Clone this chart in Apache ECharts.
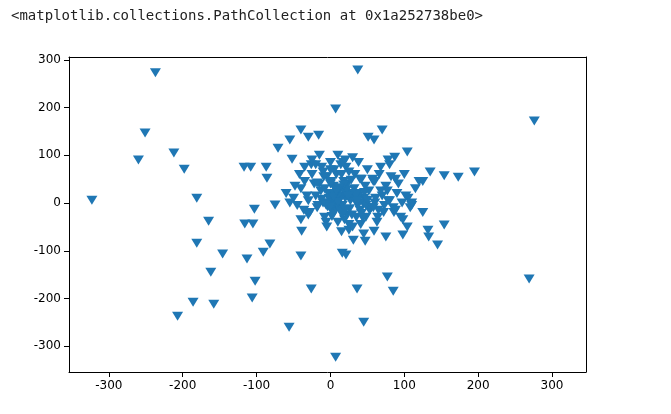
<!DOCTYPE html><html><head><meta charset="utf-8"><script src="https://cdn.jsdelivr.net/npm/echarts@6/dist/echarts.min.js"></script></head><body style="margin:0;background:#fff"><div id="c" style="width:671px;height:414px"></div><script>
const xTicks=[-300,-200,-100,0,100,200,300];
const yTicks=[-300,-200,-100,0,100,200,300];
const outX=[-323,-237,-251,-260,-212,-198,-181,-181,-165,-162,-146,-186,-158,-207,-117,-108,-116,-103,-105,-113,-102,-106,-91,-82,-56,-26,7,37,7,276,269,195,173,154,145,154,132,133,135,85,77,45,36,-40,-39,-75,-87,-71,-55,-40,-52,-86,70,51,59,104,87,21,25,31,16,21,-16,-30,104,98,75,59,47];
const outY=[6,273,147,90,105,71,10,-84,-38,-145,-107,-208,-212,-237,75,75,-44,-13,-44,-117,-164,-199,-103,-86,-260,-180,-323,279,197,172,-159,65,54,57,-88,-46,-57,-71,65,-185,-155,-250,-180,-111,-59,-4,75,115,132,153,92,52,153,138,132,107,96,75,-57,-78,-105,-109,142,138,-50,-67,-71,-59,-80];
const clX=[-60,-50,-45,-40,-35,-30,-28,-25,-20,-18,-15,-12,-10,-8,-5,-3,0,2,4,6,8,10,12,14,16,18,20,22,25,28,30,32,35,38,40,42,45,48,50,52,55,58,60,63,66,70,72,75,78,80,85,88,90,95,100,105,110,115,120,125,-55,-48,-42,-36,-32,-26,-22,-17,-13,-9,-6,-2,1,3,5,9,11,13,17,19,23,27,29,33,37,41,44,47,53,57,61,64,68,73,77,82,86,92,97,102,108,-20,-10,0,10,20,30,-5,5,15,25,35,45,55,65,-15,-25,-35,12,8,3,-2,18,28,38,48,58,68,78,88,98,110,125,-30,-40,0,15,40,60,80,-12,-4,6,14,22,30,38,46,-8,2,10,18,26,34,42,50,-18,-6,4,12,20,28,36,44,0,8,16,24];
const clY=[20,10,-5,30,45,5,-20,60,15,-10,40,75,0,-30,55,20,85,-15,35,5,60,-40,25,80,-5,45,10,-25,65,20,-50,30,0,85,-15,50,10,-30,70,25,-10,45,0,-40,60,15,-20,35,90,5,-10,50,20,-30,60,10,-5,30,45,-20,0,35,60,-15,15,80,40,-5,25,55,-40,10,45,-20,70,30,-10,15,85,-35,40,5,-25,60,20,-45,0,35,-15,50,10,-30,75,-5,25,55,-20,40,0,15,-10,80,65,40,100,90,95,-50,-20,-60,-45,-30,-65,-10,-15,100,90,75,5,10,-5,0,25,20,15,-5,-10,25,5,-15,-35,0,45,-25,-35,70,60,50,45,80,8,-8,18,-18,28,12,-2,22,30,-28,2,38,-12,16,-22,6,42,-4,12,32,-14,48,4,-32,-8,26,-24,14];
const pts=[];for(let i=0;i<outX.length;i++)pts.push([outX[i],outY[i]]);for(let i=0;i<Math.min(clX.length,clY.length);i++)pts.push([clX[i],clY[i]]);
const ch=echarts.init(document.getElementById('c'));
const lab={color:'#000',fontFamily:'DejaVu Sans',fontSize:12};
const frame=(pos)=>({type:'value',position:pos,min:-354,max:346,splitLine:{show:false},axisLine:{show:true,onZero:false,lineStyle:{color:'#000'}},axisTick:{show:false},axisLabel:{show:false}});
ch.setOption({animation:false,
title:{text:'<matplotlib.collections.PathCollection at 0x1a252738be0>',left:6,top:4,textStyle:{fontFamily:'DejaVu Sans Mono',fontSize:14,fontWeight:'normal',color:'#222'}},
grid:{left:69,right:85,top:57,bottom:42},
xAxis:[{type:'value',min:-354,max:346,splitLine:{show:false},axisLine:{onZero:false,lineStyle:{color:'#000'}},axisTick:{show:true,customValues:xTicks,lineStyle:{color:'#000'}},axisLabel:Object.assign({customValues:xTicks},lab)},frame('top')],
yAxis:[{type:'value',min:-354,max:306,splitLine:{show:false},axisLine:{show:true,onZero:false,lineStyle:{color:'#000'}},axisTick:{show:true,customValues:yTicks,lineStyle:{color:'#000'}},axisLabel:Object.assign({customValues:yTicks},lab)},Object.assign(frame('right'),{max:306})],
series:[{type:'scatter',data:pts,symbol:'path://M0,0 L10,0 L5,9 Z',symbolSize:[11,9],itemStyle:{color:'#1f77b4',opacity:1}}]});
</script></body></html>
